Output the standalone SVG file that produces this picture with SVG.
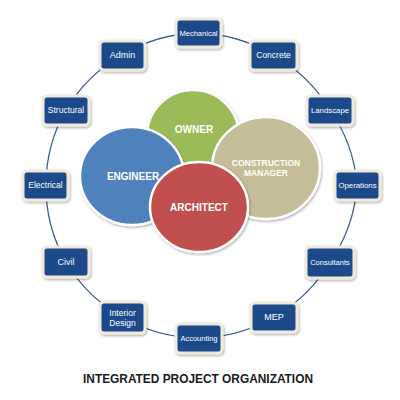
<svg xmlns="http://www.w3.org/2000/svg" width="400" height="400" viewBox="0 0 400 400">
<defs>
<filter id="sh" x="-20%" y="-20%" width="150%" height="150%">
<feDropShadow dx="1" dy="1.5" stdDeviation="1.2" flood-color="#000" flood-opacity="0.3"/>
</filter>
<style>
.box{fill:#1f4a8a;stroke:#efeadb;stroke-width:3;filter:url(#sh)}
.bt{fill:#fff;font-family:"Liberation Sans",Arial,sans-serif;text-anchor:middle;dominant-baseline:central}
.con{fill:none;stroke:#3a5d8f;stroke-width:1.3}
.circ{stroke:#fff;stroke-width:2.5;filter:url(#sh)}
.ct{fill:#fff;font-family:"Liberation Sans",Arial,sans-serif;font-weight:bold;text-anchor:middle;dominant-baseline:central}
</style>
</defs>
<rect width="400" height="400" fill="#fff"/>
<g id="connectors">
<path class="con" d="M198 33 A153 152 0 0 1 273 55"/>
<path class="con" d="M273 55 A153 152 0 0 1 330 110"/>
<path class="con" d="M330 110 A153 152 0 0 1 357 185"/>
<path class="con" d="M357 185 A153 152 0 0 1 330 262"/>
<path class="con" d="M330 262 A153 152 0 0 1 274 317"/>
<path class="con" d="M274 317 A153 152 0 0 1 198 338"/>
<path class="con" d="M198 338 A153 152 0 0 1 122 317"/>
<path class="con" d="M122 317 A153 152 0 0 1 66 262"/>
<path class="con" d="M66 262 A153 152 0 0 1 46 185"/>
<path class="con" d="M46 185 A153 152 0 0 1 66 110"/>
<path class="con" d="M66 110 A153 152 0 0 1 122 55"/>
<path class="con" d="M122 55 A153 152 0 0 1 198 33"/>
</g>
<g id="owner"><ellipse class="circ" cx="193" cy="136" rx="46" ry="46" fill="#9bbb59"/><text class="ct" x="194" y="129" font-size="10">OWNER</text></g>
<g id="engineer"><ellipse class="circ" cx="132" cy="176" rx="52" ry="49" fill="#4f81bd"/><text class="ct" x="133" y="176" font-size="10">ENGINEER</text></g>
<g id="construction-manager"><ellipse class="circ" cx="266" cy="168" rx="54" ry="51" fill="#c4bd97"/><text class="ct" x="266" y="163" font-size="8.5">CONSTRUCTION</text><text class="ct" x="266" y="173" font-size="8.5">MANAGER</text></g>
<g id="architect"><ellipse class="circ" cx="199" cy="207" rx="49" ry="45" fill="#c0504d"/><text class="ct" x="199" y="207" font-size="10">ARCHITECT</text></g>
<g id="mechanical"><rect class="box" x="176" y="19" width="45" height="28" rx="4"/><text class="bt" x="198.5" y="33" font-size="7.5">Mechanical</text></g>
<g id="admin"><rect class="box" x="100" y="41" width="45" height="29" rx="4"/><text class="bt" x="122.5" y="55" font-size="9">Admin</text></g>
<g id="concrete"><rect class="box" x="250" y="41" width="47" height="29" rx="4"/><text class="bt" x="273.5" y="55" font-size="8.5">Concrete</text></g>
<g id="structural"><rect class="box" x="43" y="96" width="46" height="29" rx="4"/><text class="bt" x="66" y="110" font-size="8.5">Structural</text></g>
<g id="landscape"><rect class="box" x="307" y="96" width="46" height="29" rx="4"/><text class="bt" x="330" y="110" font-size="7.8">Landscape</text></g>
<g id="electrical"><rect class="box" x="23" y="171" width="45" height="29" rx="4"/><text class="bt" x="45.5" y="185" font-size="8.5">Electrical</text></g>
<g id="operations"><rect class="box" x="335" y="171" width="45" height="29" rx="4"/><text class="bt" x="357.5" y="185" font-size="7.8">Operations</text></g>
<g id="civil"><rect class="box" x="43" y="247" width="46" height="30" rx="4"/><text class="bt" x="66" y="262" font-size="9">Civil</text></g>
<g id="consultants"><rect class="box" x="306" y="247" width="48" height="31" rx="4"/><text class="bt" x="330" y="262" font-size="7.5">Consultants</text></g>
<g id="interior-design"><rect class="box" x="100" y="302" width="45" height="31" rx="4"/><text class="bt" x="122.5" y="312.5" font-size="8.5">Interior</text><text class="bt" x="122.5" y="322.5" font-size="8.5">Design</text></g>
<g id="mep"><rect class="box" x="251" y="303" width="46" height="29" rx="4"/><text class="bt" x="274" y="317" font-size="9">MEP</text></g>
<g id="accounting"><rect class="box" x="176" y="324" width="46" height="29" rx="4"/><text class="bt" x="199" y="338.5" font-size="7.5">Accounting</text></g>
<text x="198" y="383" font-family="'Liberation Sans',Arial,sans-serif" font-weight="bold" font-size="12.5" text-anchor="middle" fill="#1a1a1a" textLength="230" lengthAdjust="spacingAndGlyphs">INTEGRATED PROJECT ORGANIZATION</text>
</svg>
